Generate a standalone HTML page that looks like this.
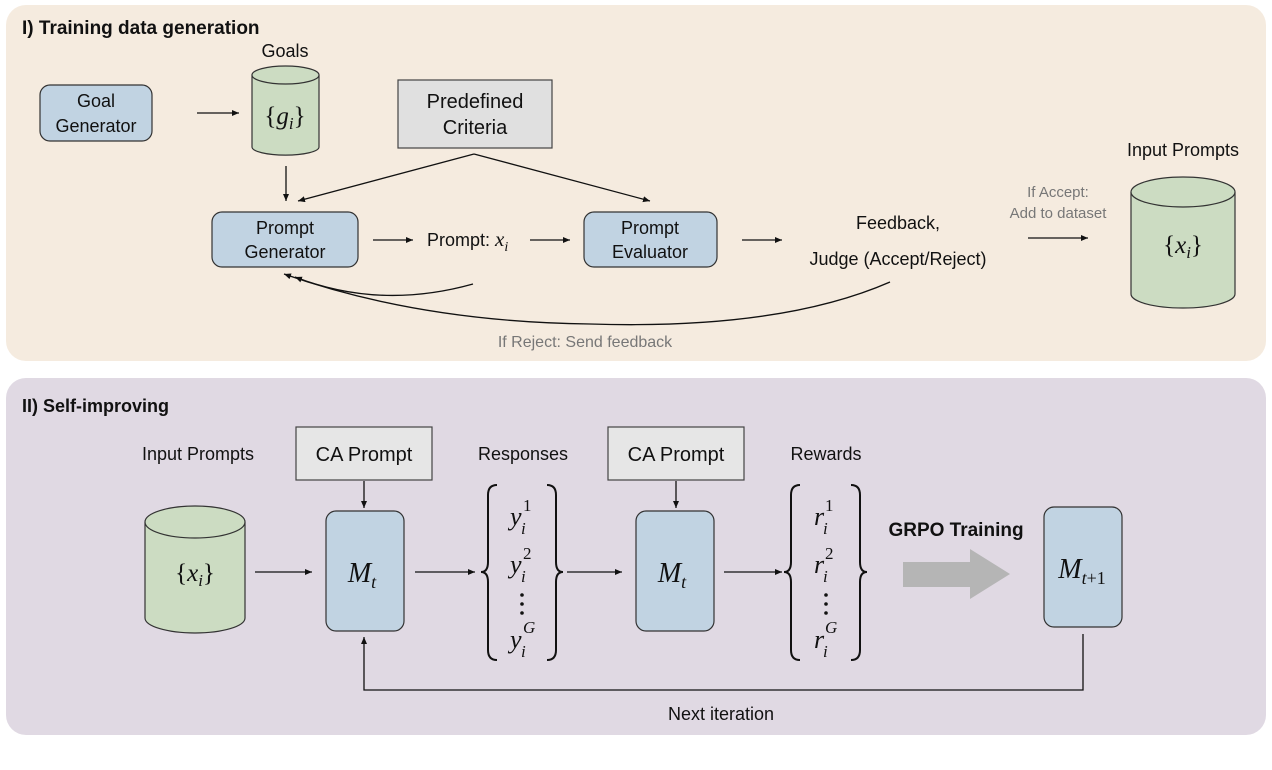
<!DOCTYPE html>
<html><head><meta charset="utf-8"><style>
html,body{margin:0;padding:0;background:#fff;}
svg{display:block;}
text{font-family:"Liberation Sans",Arial,sans-serif;fill:#111;}
.m{font-family:"Liberation Serif","DejaVu Serif",serif;font-style:italic;}
.r{font-family:"Liberation Serif","DejaVu Serif",serif;font-style:normal;}
</style></head><body>
<svg width="1272" height="770" viewBox="0 0 1272 770" xmlns="http://www.w3.org/2000/svg">
<defs>
<marker id="a" markerWidth="8" markerHeight="8" refX="7" refY="3" orient="auto" markerUnits="userSpaceOnUse"><path d="M0,0 L7,3 L0,6 z" fill="#111"/></marker>
</defs>
<rect x="6" y="5" width="1260" height="356" rx="20" fill="#f5ebdf"/>
<rect x="6" y="378" width="1260" height="357" rx="20" fill="#e0d9e3"/>

<text x="22" y="34" font-size="19" font-weight="bold">I) Training data generation</text>

<rect x="40" y="85" width="112" height="56" rx="10" fill="#c1d3e2" stroke="#333" stroke-width="1.2"/>
<text x="96" y="107" font-size="18" text-anchor="middle">Goal</text>
<text x="96" y="132" font-size="18" text-anchor="middle">Generator</text>
<line x1="197" y1="113" x2="239" y2="113" stroke="#111" stroke-width="1.3" marker-end="url(#a)"/>

<text x="285" y="57" font-size="18" text-anchor="middle">Goals</text>
<path d="M252,75 L252,147 A33,8 0 0 0 319,147 L319,75" fill="#ccdcc2" stroke="#333" stroke-width="1.2"/>
<ellipse cx="285.5" cy="75" rx="33.5" ry="9" fill="#ccdcc2" stroke="#333" stroke-width="1.2"/>
<text x="285" y="124" font-size="25" class="r" text-anchor="middle">{<tspan class="m">g</tspan><tspan class="m" font-size="17" dy="5">i</tspan><tspan dy="-5">}</tspan></text>
<line x1="286" y1="166" x2="286" y2="201" stroke="#111" stroke-width="1.3" marker-end="url(#a)"/>

<rect x="398" y="80" width="154" height="68" fill="#e0e0e0" stroke="#444" stroke-width="1.2"/>
<text x="475" y="108" font-size="20" text-anchor="middle">Predefined</text>
<text x="475" y="134" font-size="20" text-anchor="middle">Criteria</text>
<line x1="474" y1="154" x2="298" y2="201" stroke="#111" stroke-width="1.3" marker-end="url(#a)"/>
<line x1="474" y1="154" x2="650" y2="201" stroke="#111" stroke-width="1.3" marker-end="url(#a)"/>

<rect x="212" y="212" width="146" height="55" rx="10" fill="#c1d3e2" stroke="#333" stroke-width="1.2"/>
<text x="285" y="234" font-size="18" text-anchor="middle">Prompt</text>
<text x="285" y="258" font-size="18" text-anchor="middle">Generator</text>
<line x1="373" y1="240" x2="413" y2="240" stroke="#111" stroke-width="1.3" marker-end="url(#a)"/>
<text x="427" y="246" font-size="18">Prompt: <tspan class="m" font-size="21">x</tspan><tspan class="m" font-size="14" dy="5">i</tspan></text>
<line x1="530" y1="240" x2="570" y2="240" stroke="#111" stroke-width="1.3" marker-end="url(#a)"/>

<rect x="584" y="212" width="133" height="55" rx="10" fill="#c1d3e2" stroke="#333" stroke-width="1.2"/>
<text x="650" y="234" font-size="18" text-anchor="middle">Prompt</text>
<text x="650" y="258" font-size="18" text-anchor="middle">Evaluator</text>
<line x1="742" y1="240" x2="782" y2="240" stroke="#111" stroke-width="1.3" marker-end="url(#a)"/>
<text x="898" y="229" font-size="18" text-anchor="middle">Feedback,</text>
<text x="898" y="265" font-size="18" text-anchor="middle">Judge (Accept/Reject)</text>

<text x="1058" y="197" font-size="15" text-anchor="middle" style="fill:#777">If Accept:</text>
<text x="1058" y="218" font-size="15" text-anchor="middle" style="fill:#777">Add to dataset</text>
<line x1="1028" y1="238" x2="1088" y2="238" stroke="#111" stroke-width="1.3" marker-end="url(#a)"/>

<text x="1183" y="156" font-size="18" text-anchor="middle">Input Prompts</text>
<path d="M1131,192 L1131,294 A52,14 0 0 0 1235,294 L1235,192" fill="#ccdcc2" stroke="#333" stroke-width="1.2"/>
<ellipse cx="1183" cy="192" rx="52" ry="15" fill="#ccdcc2" stroke="#333" stroke-width="1.2"/>
<text x="1183" y="253" font-size="25" class="r" text-anchor="middle">{<tspan class="m">x</tspan><tspan class="m" font-size="17" dy="5">i</tspan><tspan dy="-5">}</tspan></text>

<path d="M473,284 Q380,310 295,277" fill="none" stroke="#111" stroke-width="1.3" marker-end="url(#a)"/>
<path d="M890,282 Q780,330 590,324 Q420,322 284,274" fill="none" stroke="#111" stroke-width="1.3" marker-end="url(#a)"/>
<text x="585" y="347" font-size="16" text-anchor="middle" style="fill:#777">If Reject: Send feedback</text>

<text x="22" y="412" font-size="18" font-weight="bold">II) Self-improving</text>
<text x="198" y="460" font-size="18" text-anchor="middle">Input Prompts</text>
<rect x="296" y="427" width="136" height="53" fill="#e6e6e6" stroke="#444" stroke-width="1.2"/>
<text x="364" y="461" font-size="20" text-anchor="middle">CA Prompt</text>
<text x="523" y="460" font-size="18" text-anchor="middle">Responses</text>
<rect x="608" y="427" width="136" height="53" fill="#e6e6e6" stroke="#444" stroke-width="1.2"/>
<text x="676" y="461" font-size="20" text-anchor="middle">CA Prompt</text>
<text x="826" y="460" font-size="18" text-anchor="middle">Rewards</text>

<path d="M145,522 L145,618 A50,15 0 0 0 245,618 L245,522" fill="#ccdcc2" stroke="#333" stroke-width="1.2"/>
<ellipse cx="195" cy="522" rx="50" ry="16" fill="#ccdcc2" stroke="#333" stroke-width="1.2"/>
<text x="195" y="581" font-size="25" class="r" text-anchor="middle">{<tspan class="m">x</tspan><tspan class="m" font-size="17" dy="5">i</tspan><tspan dy="-5">}</tspan></text>
<line x1="255" y1="572" x2="312" y2="572" stroke="#111" stroke-width="1.3" marker-end="url(#a)"/>

<line x1="364" y1="481" x2="364" y2="508" stroke="#111" stroke-width="1.3" marker-end="url(#a)"/>
<rect x="326" y="511" width="78" height="120" rx="10" fill="#c1d3e2" stroke="#333" stroke-width="1.2"/>
<text x="362" y="582" font-size="28" class="m" text-anchor="middle">M<tspan font-size="18" dy="6">t</tspan></text>
<line x1="415" y1="572" x2="475" y2="572" stroke="#111" stroke-width="1.3" marker-end="url(#a)"/>

<path d="M497,485 Q488,485 488,495 L488,562 Q488,572 481,572 Q488,572 488,582 L488,650 Q488,660 497,660" fill="none" stroke="#111" stroke-width="2"/>
<path d="M547,485 Q556,485 556,495 L556,562 Q556,572 563,572 Q556,572 556,582 L556,650 Q556,660 547,660" fill="none" stroke="#111" stroke-width="2"/>
<text x="510" y="525" class="m" font-size="26">y</text><text x="523" y="511" class="r" font-size="17">1</text><text x="521" y="534" class="m" font-size="17">i</text>
<text x="510" y="573" class="m" font-size="26">y</text><text x="523" y="559" class="r" font-size="17">2</text><text x="521" y="582" class="m" font-size="17">i</text>
<circle cx="522" cy="595" r="1.8" fill="#111"/><circle cx="522" cy="604" r="1.8" fill="#111"/><circle cx="522" cy="613" r="1.8" fill="#111"/>
<text x="510" y="648" class="m" font-size="26">y</text><text x="523" y="633" class="m" font-size="17">G</text><text x="521" y="657" class="m" font-size="17">i</text>
<line x1="567" y1="572" x2="622" y2="572" stroke="#111" stroke-width="1.3" marker-end="url(#a)"/>

<line x1="676" y1="481" x2="676" y2="508" stroke="#111" stroke-width="1.3" marker-end="url(#a)"/>
<rect x="636" y="511" width="78" height="120" rx="10" fill="#c1d3e2" stroke="#333" stroke-width="1.2"/>
<text x="672" y="582" font-size="28" class="m" text-anchor="middle">M<tspan font-size="18" dy="6">t</tspan></text>
<line x1="724" y1="572" x2="782" y2="572" stroke="#111" stroke-width="1.3" marker-end="url(#a)"/>

<path d="M800,485 Q791,485 791,495 L791,562 Q791,572 784,572 Q791,572 791,582 L791,650 Q791,660 800,660" fill="none" stroke="#111" stroke-width="2"/>
<path d="M851,485 Q860,485 860,495 L860,562 Q860,572 867,572 Q860,572 860,582 L860,650 Q860,660 851,660" fill="none" stroke="#111" stroke-width="2"/>
<text x="814" y="525" class="m" font-size="26">r</text><text x="825" y="511" class="r" font-size="17">1</text><text x="823" y="534" class="m" font-size="17">i</text>
<text x="814" y="573" class="m" font-size="26">r</text><text x="825" y="559" class="r" font-size="17">2</text><text x="823" y="582" class="m" font-size="17">i</text>
<circle cx="826" cy="595" r="1.8" fill="#111"/><circle cx="826" cy="604" r="1.8" fill="#111"/><circle cx="826" cy="613" r="1.8" fill="#111"/>
<text x="814" y="648" class="m" font-size="26">r</text><text x="825" y="633" class="m" font-size="17">G</text><text x="823" y="657" class="m" font-size="17">i</text>

<text x="956" y="536" font-size="19" font-weight="bold" text-anchor="middle">GRPO Training</text>
<path d="M903,562 L970,562 L970,549 L1010,574 L970,599 L970,587 L903,587 z" fill="#b5b5b5"/>

<rect x="1044" y="507" width="78" height="120" rx="10" fill="#c1d3e2" stroke="#333" stroke-width="1.2"/>
<text x="1082" y="578" font-size="28" class="m" text-anchor="middle">M<tspan font-size="18" dy="6">t</tspan><tspan font-size="18" class="r">+1</tspan></text>

<path d="M1083,634 L1083,690 L364,690 L364,637" fill="none" stroke="#111" stroke-width="1.3" marker-end="url(#a)"/>
<text x="721" y="720" font-size="18" text-anchor="middle">Next iteration</text>
</svg>
</body></html>
